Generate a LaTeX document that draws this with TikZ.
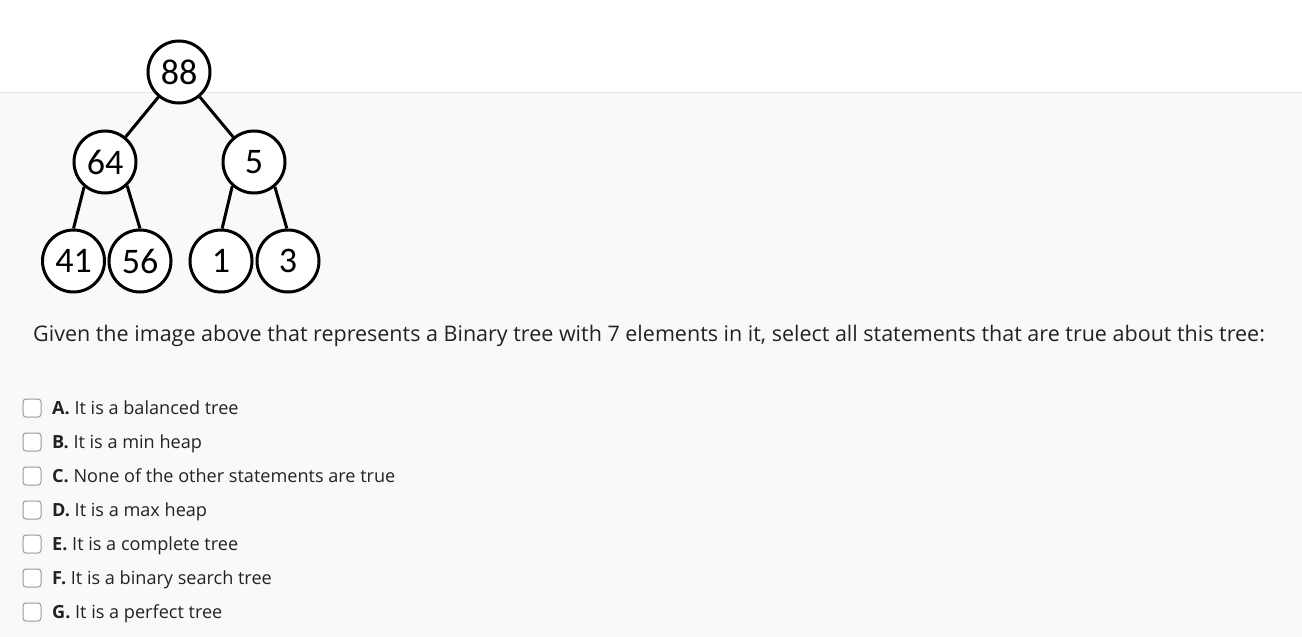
\documentclass[tikz,border=0pt]{standalone}
\usepackage{fontspec}
\setmainfont{Open Sans}
\newfontfamily\numfont{Carlito}
\definecolor{pagebg}{HTML}{F9F9F9}
\definecolor{sepline}{HTML}{E3E3E3}
\definecolor{boxline}{HTML}{9A9A9A}
\definecolor{txt}{HTML}{222222}
\begin{document}
\begin{tikzpicture}[x=1pt,y=-1pt,
  tnode/.style={circle,draw=black,line width=3pt,fill=white,minimum size=62pt,inner sep=0pt,font=\numfont\fontsize{36}{36}\selectfont},
  tedge/.style={draw=black,line width=3pt},
  cbox/.style={draw=boxline,line width=1pt,fill=white,rounded corners=3pt,minimum size=18pt,inner sep=0pt},
  opt/.style={anchor=base west,inner sep=0pt,text=txt,font=\fontsize{18.1}{22}\selectfont},
  question/.style={anchor=base west,inner sep=0pt,text=txt,font=\fontsize{21.5}{26}\selectfont}]
\useasboundingbox (0,0) rectangle (1302,637);
\fill[white] (0,0) rectangle (1302,92);
\fill[pagebg] (0,92) rectangle (1302,637);
\draw[sepline,line width=1pt] (0,92) -- (1302,92);
% tree
\node[tnode] (n88) at (179,72) {88};
\node[tnode] (n64) at (105,162) {64};
\node[tnode] (n5) at (254,162) {5};
\node[tnode] (n41) at (73.5,261) {41};
\node[tnode] (n56) at (140,261) {56};
\node[tnode] (n1) at (221,261) {1};
\node[tnode] (n3) at (288,261) {3};
\draw[tedge] (n88) -- (n64);
\draw[tedge] (n88) -- (n5);
\draw[tedge] (n64.230) -- (n41.90);
\draw[tedge] (n64.313) -- (n56.90);
\draw[tedge] (n5.228) -- (n1.88);
\draw[tedge] (n5.310) -- (n3.92);
% question
\node[question] (q) at (33,341) {Given the image above that represents a Binary tree with 7 elements in it, select all statements that are true about this tree:};
% options
\node[cbox] (ba) at (32,408) {};
\node[opt] (ta) at (52,414) {\textbf{A.} It is a balanced tree};
\node[cbox] (bb) at (32,442) {};
\node[opt] (tb) at (52,448) {\textbf{B.} It is a min heap};
\node[cbox] (bc) at (32,476) {};
\node[opt] (tc) at (52,482) {\textbf{C.} None of the other statements are true};
\node[cbox] (bd) at (32,510) {};
\node[opt] (td) at (52,516) {\textbf{D.} It is a max heap};
\node[cbox] (be) at (32,544) {};
\node[opt] (te) at (52,550) {\textbf{E.} It is a complete tree};
\node[cbox] (bf) at (32,578) {};
\node[opt] (tf) at (52,584) {\textbf{F.} It is a binary search tree};
\node[cbox] (bg) at (32,612) {};
\node[opt] (tg) at (52,618) {\textbf{G.} It is a perfect tree};
\end{tikzpicture}
\end{document}
